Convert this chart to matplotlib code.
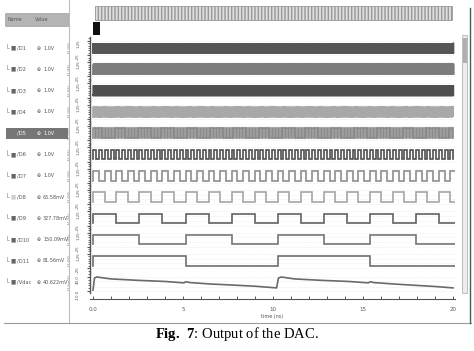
import numpy as np
import matplotlib
matplotlib.use('Agg')
import matplotlib.pyplot as plt
from matplotlib.patches import Rectangle
from matplotlib.lines import Line2D
from matplotlib.ticker import MultipleLocator, FixedLocator

plt.rcParams['mathtext.fontset'] = 'custom'
plt.rcParams['mathtext.rm'] = 'Liberation Serif'
plt.rcParams['mathtext.bf'] = 'Liberation Serif:bold'

W, H = 474, 351

# signal list as shown in the viewer
names = ['/D1', '/D2', '/D3', '/D4', '/D5', '/D6', '/D7', '/D8', '/D9', '/D10', '/D11', '/Vdac']
values = ['1.0V', '1.0V', '1.0V', '1.0V', '1.0V', '1.0V', '1.0V',
          '65.58mV', '327.78mV', '150.09mV', '81.56mV', '40.622mV']
# half period of each bit clock (ns)
half_periods = [0.005, 0.01, 0.02, 0.04, 0.08, 0.16, 0.32, 0.64, 1.28, 2.56, 5.12]

# DAC output (ns, mV)
vdac_t = [0.0, 0.08, 0.2, 1.0, 2.5, 4.0, 5.05, 5.15, 5.4, 6.5, 7.5, 9.0, 10.2,
          10.3, 10.45, 11.2, 12.7, 14.2, 15.3, 15.4, 15.6, 16.7, 17.7, 19.0, 20.0]
vdac_mv = [-7, 36, 40, 33, 28, 24, 19, 23, 20, 15, 12, 7, 1,
           36, 40, 33, 28, 24, 19, 23, 20, 15, 11, 6, 1]

x_ticks = [0, 5, 10, 15, 20]
x_ticklabels = ['0.0', '5', '10', '15', '20']

colors = ['#555555', '#7c7c7c', '#4f4f4f', '#a8a8a8', '#8a8a8a', '#505050',
          '#8e8e8e', '#a6a6a6', '#626262', '#767676', '#6e6e6e', '#6a6a6a']


def fx(x):
    return x / W


def fy(y):
    return 1 - y / H


fig = plt.figure(figsize=(W / 100, H / 100), dpi=100)
fig.patch.set_facecolor('white')

pitch = 21.3
row0 = 48.0
ax_left, ax_right = 90, 455
axes = []
for k, name in enumerate(names):
    yc = row0 + k * pitch
    ax = fig.add_axes([fx(ax_left), fy(yc + pitch / 2), (ax_right - ax_left) / W, pitch / H])
    ax.set_facecolor('none')
    ax.set_xlim(-0.167, 20.11)
    if k < len(half_periods):
        h = half_periods[k]
        edges = np.arange(0, 20 + h, h)
        levels = (np.arange(len(edges)) % 2 == 0).astype(float)
        t = np.concatenate([[0.0], edges + 0.02])
        v = np.concatenate([[0.0], levels])
        ax.step(t, v, where='post', color=colors[k], lw=1.2, solid_joinstyle='miter')
        ax.set_ylim(-0.62, 1.62)
        ax.yaxis.set_major_locator(FixedLocator([-0.25, 1.25]))
        ax.set_yticklabels(['-.25', '1.25'])
        ax.set_ylabel('V (V)', fontsize=3.2, color='#666666')
        for g in [-0.25, 0.25, 0.75, 1.25]:
            ax.axhline(g, color='#dcdcdc', lw=0.4, ls=':', zorder=0)
    else:
        ax.plot(vdac_t, vdac_mv, color=colors[k], lw=1.2)
        ax.set_ylim(-17, 59)
        ax.yaxis.set_major_locator(FixedLocator([-10, 40]))
        ax.set_yticklabels(['-10.0', '40.0'])
        ax.set_ylabel('V (mV)', fontsize=3.2, color='#666666')
        for g in [-10, 5, 25, 40]:
            ax.axhline(g, color='#dcdcdc', lw=0.4, ls=':', zorder=0)
    ax.yaxis.set_label_coords((72 - ax_left) / (ax_right - ax_left), 0.5)
    ax.tick_params(axis='y', labelrotation=90, labelsize=2.9, length=2, width=0.8,
                   pad=5, colors='#555555')
    ax.yaxis.set_minor_locator(MultipleLocator(0.25 if k < 11 else 10))
    ax.tick_params(axis='y', which='minor', length=1.5, width=0.6, color='#555555')
    for s in ['top', 'right', 'bottom']:
        ax.spines[s].set_visible(False)
    ax.spines['left'].set_color('#555555')
    ax.spines['left'].set_linewidth(1.0)
    ax.spines['left'].set_linestyle((0, (2, 1)))
    if k < len(names) - 1:
        ax.set_xticks([])
    axes.append(ax)

# bottom time axis
axb = axes[-1]
axb.spines['bottom'].set_visible(True)
axb.spines['bottom'].set_position(('outward', 4))
axb.spines['bottom'].set_color('#555555')
axb.spines['bottom'].set_linewidth(0.8)
axb.set_xticks(x_ticks)
axb.set_xticklabels(x_ticklabels)
axb.xaxis.set_minor_locator(MultipleLocator(1))
axb.tick_params(axis='x', which='both', direction='in', length=2.5, width=0.7,
                labelsize=4, pad=6, colors='#555555')
axb.set_xlabel('time (ns)', fontsize=3.5, labelpad=1.5, color='#555555')

# left name / value panel
fig.add_artist(Rectangle((fx(5), fy(26)), (68 - 5) / W, 13 / H, transform=fig.transFigure,
                         facecolor='#b4b4b4', edgecolor='#a0a0a0', lw=0.5))
fig.text(fx(8), fy(19.5), 'Name', fontsize=3.5, color='#555555', va='center')
fig.text(fx(35), fy(19.5), 'Value', fontsize=3.5, color='#555555', va='center')

for k, name in enumerate(names):
    yc = row0 + k * pitch
    txtc = '#555555'
    if name == '/D5':
        fig.add_artist(Rectangle((fx(6), fy(yc + 5.5)), (68 - 6) / W, 11 / H,
                                 transform=fig.transFigure, facecolor='#767676',
                                 edgecolor='none'))
        txtc = 'white'
    else:
        fig.add_artist(Line2D([fx(7), fx(7), fx(9)], [fy(yc - 4), fy(yc), fy(yc)],
                              transform=fig.transFigure, color='#999999', lw=0.5))
        fig.text(fx(10.5), fy(yc), '\u25a0', fontsize=4,
                 color='#cccccc' if name == '/D8' else '#666666', va='center')
    fig.text(fx(17), fy(yc), name, fontsize=3.7, color=txtc, va='center')
    fig.text(fx(37), fy(yc), '\u2295', fontsize=3.5, color=txtc, va='center')
    fig.text(fx(43), fy(yc), values[k], fontsize=3.5, color=txtc, va='center')

# window frame lines
fig.add_artist(Line2D([fx(69), fx(69)], [fy(0), fy(323)], transform=fig.transFigure,
                      color='#bdbdbd', lw=0.8))
fig.add_artist(Line2D([fx(4), fx(471)], [fy(323), fy(323)], transform=fig.transFigure,
                      color='#9a9a9a', lw=0.8))
fig.add_artist(Line2D([fx(470), fx(470)], [fy(8), fy(323)], transform=fig.transFigure,
                      color='#555555', lw=1.0))

# top overview strip and cursor marker
fig.add_artist(Rectangle((fx(95), fy(20)), (452 - 95) / W, 14 / H, transform=fig.transFigure,
                         facecolor='#dedede', edgecolor='#999999', lw=0.6, hatch='|' * 5))
fig.add_artist(Rectangle((fx(93), fy(35)), 7 / W, 13 / H, transform=fig.transFigure,
                         facecolor='#111111', edgecolor='none'))

# right scrollbar
fig.add_artist(Rectangle((fx(462), fy(293)), 5 / W, 258 / H, transform=fig.transFigure,
                         facecolor='#ececec', edgecolor='#a8a8a8', lw=0.5))
fig.add_artist(Rectangle((fx(462.5), fy(63)), 4 / W, 25 / H, transform=fig.transFigure,
                         facecolor='#b0b0b0', edgecolor='none'))

# caption
fig.text(0.5, fy(334), r'$\mathbf{Fig.\ 7}$: Output of the DAC.', fontsize=10.5,
         ha='center', va='center', family='Liberation Serif')

fig.savefig('out.png', dpi=100)
